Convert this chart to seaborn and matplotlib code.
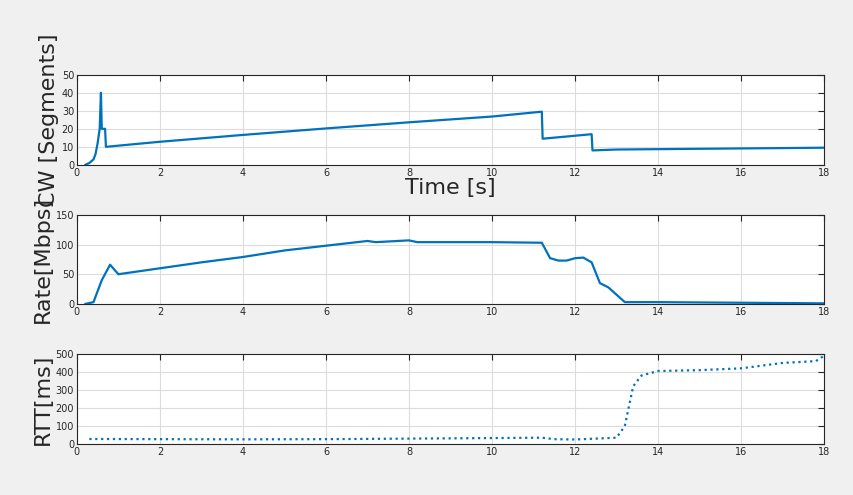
import matplotlib
matplotlib.use("Agg")
import matplotlib.pyplot as plt
import seaborn as sns

# Données
cw_t = [0.2, 0.3, 0.4, 0.45, 0.5, 0.55, 0.58, 0.6, 0.68, 0.7, 2, 4, 6, 8, 10, 11.2, 11.22, 12.4, 12.42, 13, 18]
cw_v = [0, 1, 3, 6, 12, 20, 40, 20, 20, 10, 12.8, 16.6, 20.2, 23.6, 26.8, 29.5, 14.5, 17, 8, 8.5, 9.5]

rate_t = [0.2, 0.4, 0.6, 0.8, 1.0, 1.5, 2, 3, 4, 5, 6, 7, 7.2, 8, 8.2, 10, 11.2, 11.4, 11.6, 11.8,
          12, 12.2, 12.4, 12.6, 12.8, 13.2, 14, 18]
rate_v = [0, 3, 40, 66, 50, 55, 60, 70, 79, 90, 98, 106, 104, 107, 104, 104, 103, 77, 73, 73,
          77, 78, 70, 35, 28, 3, 3, 1]

rtt_t = [0.3, 2, 4, 6, 8, 10, 11.2, 11.5, 12, 12.5, 13, 13.2, 13.4, 13.6, 14, 15, 16, 17, 17.8, 18]
rtt_v = [28, 27, 26, 27, 30, 33, 35, 27, 25, 30, 35, 100, 320, 380, 405, 410, 420, 450, 460, 490]

color = "#0072BD"

sns.set_style("white")
fig = plt.figure(figsize=(8.54, 4.95), dpi=100, facecolor="#f0f0f0")

positions = [[0.090, 0.667, 0.875, 0.182],
             [0.090, 0.386, 0.875, 0.180],
             [0.090, 0.103, 0.875, 0.182]]
panels = [
    (cw_t, cw_v, "-", [0, 50], range(0, 51, 10), "CW [Segments]"),
    (rate_t, rate_v, "-", [0, 150], range(0, 151, 50), "Rate[Mbps]"),
    (rtt_t, rtt_v, ":", [0, 500], range(0, 501, 100), "RTT[ms]"),
]

axes = []
for pos, (t, v, ls, ylim, yt, lab) in zip(positions, panels):
    ax = fig.add_axes(pos)
    sns.lineplot(x=t, y=v, ax=ax, color=color, linestyle=ls, linewidth=1.6,
                 sort=False, estimator=None)
    ax.set_xlim(0, 18)
    ax.set_ylim(*ylim)
    ax.set_xticks(range(0, 19, 2))
    ax.set_yticks(list(yt))
    ax.grid(True, color="#dcdcdc", linewidth=0.8)
    ax.tick_params(direction="in", length=4, labelsize=7, top=True, right=True, pad=2)
    for s in ax.spines.values():
        s.set_color("#262626")
        s.set_linewidth(0.8)
    ax.set_ylabel(lab, fontsize=16, labelpad=2)
    axes.append(ax)

axes[0].set_xlabel("Time [s]", fontsize=16, labelpad=0)

fig.savefig("out.png", dpi=100, facecolor=fig.get_facecolor())
